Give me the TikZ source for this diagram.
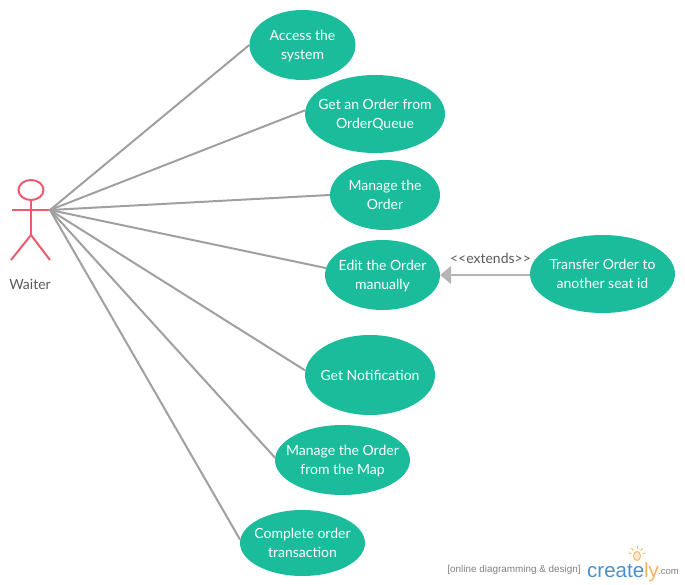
\documentclass[tikz,border=0pt]{standalone}
\usepackage{fontspec}
\setmainfont{Lato}
\newfontfamily\logofont{Liberation Sans}
\usetikzlibrary{shapes.geometric,arrows.meta}
\definecolor{usecasegreen}{HTML}{1ABC9C}
\definecolor{actorred}{HTML}{EB5B6D}
\definecolor{linkgray}{HTML}{A0A0A0}
\definecolor{extendgray}{HTML}{B4B4B4}
\definecolor{labelgray}{HTML}{5A5A5A}
\definecolor{logoblue}{HTML}{4A90C8}
\definecolor{logoorange}{HTML}{F5B25C}
\tikzset{
  usecase/.style={ellipse, fill=usecasegreen, text=white, inner xsep=-20pt, inner ysep=0pt, align=center,
    text depth=0pt, font=\fontsize{14}{19}\selectfont},
  lowered/.style={execute at begin node={\rule{0pt}{12.5pt}}},
  graylabel/.style={text=labelgray, inner sep=0pt},
  limb/.style={draw=actorred, line width=2pt},
  link/.style={draw=linkgray, line width=2pt}
}
\begin{document}
\begin{tikzpicture}[x=1pt, y=-1pt]
    \useasboundingbox (0,0) rectangle (685,585);
    \node[usecase, lowered, minimum width=106pt, minimum height=70pt] (access) at (302.5,45) {Access the\\system};
    \node[usecase, lowered, minimum width=140pt, minimum height=78pt] (queue) at (375,114) {Get an Order from\\OrderQueue};
    \node[usecase, lowered, minimum width=110pt, minimum height=70pt] (manage) at (385,195) {Manage the\\Order};
    \node[usecase, lowered, minimum width=115pt, minimum height=70pt] (edit) at (382.5,275) {Edit the Order\\manually};
    \node[usecase, lowered, minimum width=145pt, minimum height=78pt] (transfer) at (602.5,274) {Transfer Order to\\another seat id};
    \node[usecase, minimum width=130pt, minimum height=80pt] (notify) at (370,375) {Get Notification};
    \node[usecase, lowered, minimum width=135pt, minimum height=70pt] (map) at (342.5,460) {Manage the Order\\from the Map};
    \node[usecase, minimum width=125pt, minimum height=66pt] (complete) at (302.5,543) {Complete order\\transaction};

    \node[draw=actorred, line width=2pt, ellipse, minimum width=25pt, minimum height=20pt, inner sep=0pt] (head) at (31,190) {};
    \coordinate (hip) at (31,235);
    \coordinate (armleft) at (12,210);
    \coordinate (hand) at (50,210);
    \coordinate (footleft) at (11,260);
    \coordinate (footright) at (50,260);
    \draw[limb] (head) -- (hip);
    \draw[limb] (armleft) -- (hand);
    \draw[limb] (footleft) -- (hip) -- (footright);
    \node[graylabel, font=\fontsize{14}{17}\selectfont] (waiter) at (30,284) {Waiter};

    \foreach \name/\ang in {access/180,queue/177,manage/180,edit/173,notify/176,map/178,complete/177}
        \draw[link] (hand) -- (\name.\ang);

    \draw[draw=extendgray, line width=2pt, -{Triangle[length=11pt,width=18pt]}] (transfer.west |- edit.east) -- (edit.east);
    \node[graylabel, font=\fontsize{14}{17}\selectfont] (extends) at (490.5,258) {<{}<extends>{}>};

    \node[text=gray, inner sep=0pt, font=\logofont\fontsize{9.9}{12}\selectfont] (tagline) at (514,570) {[online diagramming \& design]};
    \node[text=logoblue, inner sep=0pt, anchor=base west, font=\logofont\fontsize{20.5}{25}\selectfont] (logo) at (587,577) {create\textcolor{logoorange}{ly}};
    \node[text=gray, inner sep=0pt, anchor=base west, font=\logofont\fontsize{9.5}{11}\selectfont] (dotcom) at (658,574) {.com};
    \node[draw=logoorange, fill=logoorange!30, line width=0.8pt, ellipse, minimum width=7pt, minimum height=9pt, inner sep=0pt] (bulb) at (637,556) {};
    \foreach \ang in {20,55,90,125,160}
        \draw[logoorange, line width=0.8pt] (bulb.\ang) ++(-\ang:2) -- ++(-\ang:3);
\end{tikzpicture}
\end{document}
